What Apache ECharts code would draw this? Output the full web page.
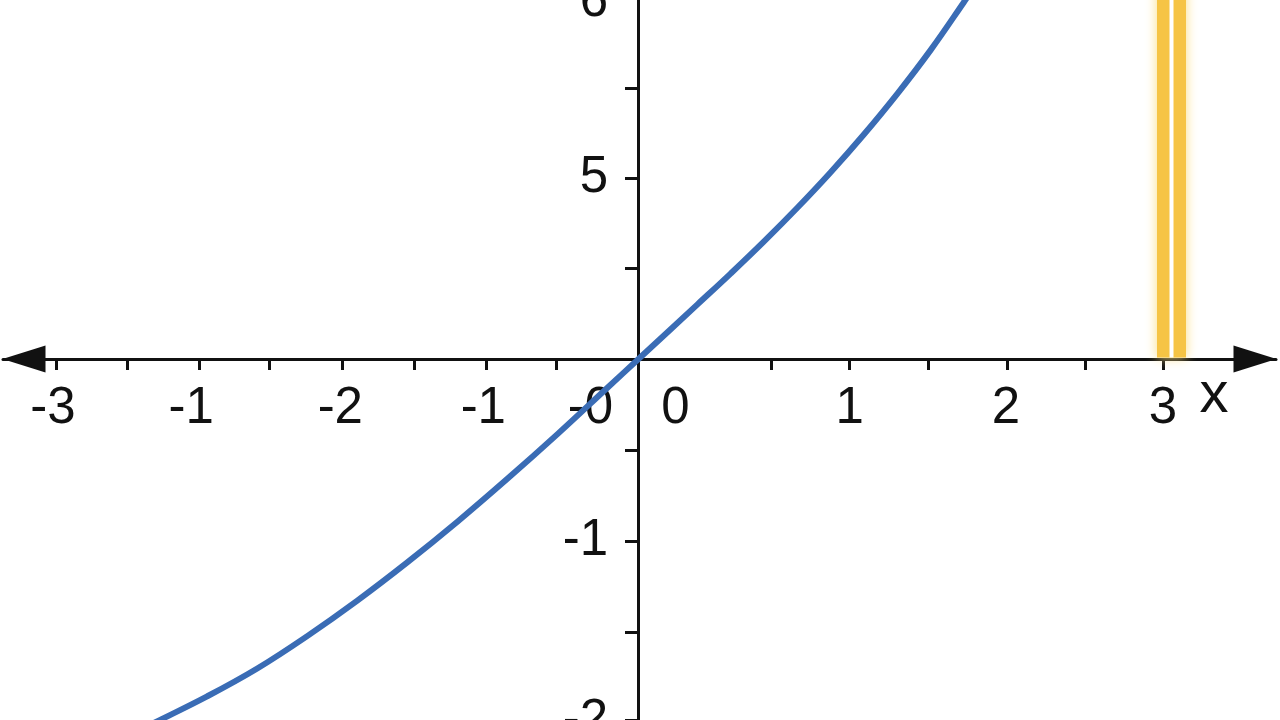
<!DOCTYPE html>
<html>
<head>
<meta charset="utf-8">
<script src="https://cdn.jsdelivr.net/npm/echarts@6/dist/echarts.min.js"></script>
<style>
html,body{margin:0;padding:0;background:#fff;}
#chart{width:1280px;height:720px;}
</style>
</head>
<body>
<div id="chart"></div>
<script>
// Curve samples (x, y in axis units)
const curveX = [-3.192, -3.109, -2.763, -2.442, -2.122, -1.801, -1.481, -1.160, -0.840, -0.519, -0.199, 0, 0.378, 0.590, 0.801, 1.019, 1.231, 1.442, 1.660, 1.872, 2.083, 2.160];
const curveY = [-2.048, -2.013, -1.864, -1.710, -1.531, -1.335, -1.124, -0.899, -0.662, -0.415, -0.159, 0, 0.302, 0.472, 0.647, 0.837, 1.032, 1.239, 1.468, 1.708, 1.970, 2.069];

// x-axis ticks and labels (positions in axis units, label texts as shown)
const xTickPos = [-3.731, -3.276, -2.814, -2.365, -1.897, -1.436, -0.974, -0.526, 0.853, 1.353, 1.853, 2.359, 2.859, 3.359];
const xLabelPos = [-3.750, -2.865, -1.910, -0.994, -0.308, 0.237, 1.353, 2.353, 3.359, 3.686];
const xLabelText = ['-3', '-1', '-2', '-1', '-0', '0', '1', '2', '3', 'x'];

// y-axis ticks and labels
const yTickPos = [1.497, 1.0, 0.503, -0.503, -1.006, -1.508, -1.994];
const yLabelPos = [1.975, 1.0, -1.006, -2.0];
const yLabelText = ['6', '5', '-1', '-2'];

// highlighted vertical band
const bandX = [3.414];
const bandY = [0.009, 2.094];

const X_MIN = -4.0705, X_MAX = 4.0833;
const Y_MIN = -2.105, Y_MAX = 2.094;

function lookup(pos, text, v) {
  let best = 0, bd = Infinity;
  for (let i = 0; i < pos.length; i++) {
    const d = Math.abs(pos[i] - v);
    if (d < bd) { bd = d; best = i; }
  }
  return text[best];
}

const chart = echarts.init(document.getElementById('chart'), null, {renderer: 'canvas'});
const font = 'Liberation Sans, Arial, sans-serif';
const ink = '#111111';
const FS = 51;

const option = {
  backgroundColor: '#ffffff',
  animation: false,
  grid: [
    // plotting grid (whole picture)
    {left: 3, right: 4, top: -20, bottom: -20, outerBoundsMode: 'none'},
    // grid whose bottom edge is the x axis (y = 0)
    {left: 3, right: 4, top: -20, bottom: 361, outerBoundsMode: 'none'},
    // grid whose left edge is the y axis (x = 0)
    {left: 638, right: 4, top: -20, bottom: -20, outerBoundsMode: 'none'}
  ],
  xAxis: [
    {gridIndex: 0, type: 'value', min: X_MIN, max: X_MAX, show: false},
    {
      gridIndex: 1, type: 'value', min: X_MIN, max: X_MAX, position: 'bottom',
      splitLine: {show: false},
      axisLine: {
        onZero: false,
        lineStyle: {color: ink, width: 3},
        symbol: ['triangle', 'triangle'],
        symbolSize: [27, 43],
        symbolOffset: [21, -21]
      },
      axisTick: {show: true, customValues: xTickPos, length: 11, lineStyle: {color: ink, width: 3}},
      axisLabel: {
        customValues: xLabelPos,
        margin: 24,
        color: ink,
        fontSize: FS,
        fontFamily: font,
        hideOverlap: false,
        formatter: function (v) {
          const t = lookup(xLabelPos, xLabelText, v);
          return t === 'x' ? '{x|x}' : t;
        },
        rich: {x: {fontSize: 58, lineHeight: 26, fontFamily: font, color: ink}}
      }
    },
    {gridIndex: 2, type: 'value', min: 0, max: 1, show: false}
  ],
  yAxis: [
    {gridIndex: 0, type: 'value', min: Y_MIN, max: Y_MAX, show: false},
    {gridIndex: 1, type: 'value', min: 0, max: 1, show: false},
    {
      gridIndex: 2, type: 'value', min: Y_MIN, max: Y_MAX, position: 'left',
      splitLine: {show: false},
      axisLine: {onZero: false, lineStyle: {color: ink, width: 3}},
      axisTick: {show: true, customValues: yTickPos, length: 13, lineStyle: {color: ink, width: 3}},
      axisLabel: {
        customValues: yLabelPos,
        margin: 30,
        color: ink,
        fontSize: FS,
        fontFamily: font,
        hideOverlap: false,
        formatter: function (v) { return lookup(yLabelPos, yLabelText, v); }
      }
    }
  ],
  series: [
    {
      type: 'line', xAxisIndex: 0, yAxisIndex: 0,
      data: bandY.map(y => [bandX[0], y]),
      symbol: 'none',
      lineStyle: {color: '#f6c445', width: 29, shadowBlur: 12, shadowColor: 'rgba(251,222,130,1)', cap: 'butt'},
      z: 1, silent: true
    },
    {
      type: 'line', xAxisIndex: 0, yAxisIndex: 0,
      data: bandY.map(y => [bandX[0], y]),
      symbol: 'none',
      lineStyle: {color: '#ffffff', width: 4, cap: 'butt'},
      z: 1, silent: true
    },
    {
      type: 'line', xAxisIndex: 0, yAxisIndex: 0,
      data: curveX.map((x, i) => [x, curveY[i]]),
      smooth: 0.4,
      symbol: 'none',
      lineStyle: {color: '#3a6cb5', width: 6},
      z: 3, silent: true
    }
  ]
};
chart.setOption(option);
</script>
</body>
</html>
